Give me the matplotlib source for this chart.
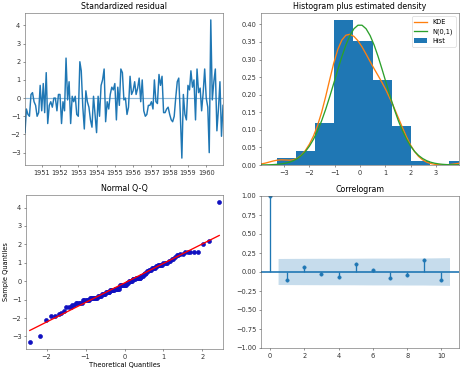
import numpy as np
import pandas as pd
import matplotlib
matplotlib.use('Agg')
import matplotlib.pyplot as plt
import matplotlib.dates as mdates
from statistics import NormalDist

# Standardized residuals, monthly, 1950-02 .. 1960-12
resid_1950 = [-1.9, -0.6, -0.9, -1.0, 0.2, 0.3, -0.2, -0.4, -1.0, -0.8, 0.7]
resid_1951 = [-0.7, 0.8, -0.8, 1.4, -1.4, -0.4, -0.2, -0.5, 0.0, 0.0, -0.7, 0.2]
resid_1952 = [0.2, -1.4, -0.2, -0.7, 2.2, -0.1, 0.9, -1.4, 0.1, -0.2, 0.1, -0.9]
resid_1953 = [-1.0, 2.0, 1.5, -0.5, -1.7, 0.4, -0.2, -0.5, -1.2, -1.6, 0.1, -0.9]
resid_1954 = [-1.9, 0.1, -1.0, 0.7, 1.0, 1.6, -1.3, -0.2, -0.6, 0.2, 0.6, 0.45]
resid_1955 = [0.8, -1.2, 0.6, -0.4, 1.6, 1.4, -0.1, 0.0, -0.9, -0.5, 1.2, 0.2]
resid_1956 = [0.4, 0.9, 0.2, 0.55, 1.1, -0.2, 1.0, -0.7, -1.0, -0.9, -0.4, -0.4]
resid_1957 = [-0.2, -0.6, 1.0, -0.2, -0.3, 1.3, 0.7, 1.2, -0.8, -0.8, -0.6, -0.5]
resid_1958 = [-0.9, -1.2, -1.3, -1.0, 0.0, 0.9, 1.1, -0.9, -3.3, 0.2, -0.9, -1.2]
resid_1959 = [0.7, 0.45, 1.5, 0.6, 1.0, -1.2, 1.6, 0.3, 0.55, -0.7, 0.3, 1.6]
resid_1960 = [0.0, -0.5, -3.0, 4.3, -0.1, 0.9, 1.6, -1.8, -0.6, 0.9, -2.1, -0.4]

start_month = '1950-02-01'

# Correlogram values
acf_lags = list(range(11))
acf_vals = [1.0, -0.11, 0.06, -0.03, -0.07, 0.10, 0.02, -0.08, -0.04, 0.16, -0.10]

resid = np.array(resid_1950 + resid_1951 + resid_1952 + resid_1953 + resid_1954 +
                 resid_1955 + resid_1956 + resid_1957 + resid_1958 + resid_1959 +
                 resid_1960)
dates = pd.date_range(start_month, periods=len(resid), freq='MS')
n = len(resid)

DPI = 47.4
W, H = 474, 370
plt.rcParams['axes.edgecolor'] = '#555555'
plt.rcParams['xtick.color'] = '#333333'
plt.rcParams['ytick.color'] = '#333333'
fig = plt.figure(figsize=(W / DPI, H / DPI), dpi=DPI)


def rect(x0, y0, x1, y1):
    return [x0 / W, 1 - y1 / H, (x1 - x0) / W, (y1 - y0) / H]


ax1 = fig.add_axes(rect(25, 13, 223, 165))
ax2 = fig.add_axes(rect(261, 13, 459, 165))
ax3 = fig.add_axes(rect(26, 195, 223, 349))
ax4 = fig.add_axes(rect(261, 196, 459, 348))

# 1. Standardized residual
ax1.plot(dates, resid, lw=2.2)
ax1.hlines(0, dates[0], dates[-1], alpha=0.5, lw=1.8)
ax1.set_xlim(dates[0], dates[-1])
ax1.xaxis.set_major_locator(mdates.YearLocator())
ax1.xaxis.set_major_formatter(mdates.DateFormatter('%Y'))
ax1.set_title('Standardized residual')

# 2. Histogram plus estimated density
_, _, patches = ax2.hist(resid, density=True, label='Hist')
nd = NormalDist()
xlim = (-1.96 * 2, 1.96 * 2)
xs = np.linspace(xlim[0], xlim[1])
bw = n ** (-1 / 5) * np.std(resid, ddof=1)
kde = np.array([np.mean([nd.pdf((x - r) / bw) for r in resid]) / bw for x in xs])
npdf = np.array([nd.pdf(x) for x in xs])
l1, = ax2.plot(xs, kde, label='KDE', lw=2)
l2, = ax2.plot(xs, npdf, label='N(0,1)', lw=2)
ax2.set_xlim(xlim)
ax2.legend(handles=[l1, l2, patches[0]], labels=['KDE', 'N(0,1)', 'Hist'],
           loc='upper right')
ax2.set_title('Histogram plus estimated density')

# 3. Normal Q-Q
ys = np.sort(resid)
probs = [(i + 1) / (n + 1) for i in range(n)]
tq = np.array([nd.inv_cdf(p) for p in probs])
ax3.set_xmargin(0.02)
ax3.plot(tq, ys, 'o', color='#1010c0', markersize=6)
ax3.plot(tq, tq * ys.std() + ys.mean(), 'r-', lw=2)
ax3.set_xlabel('Theoretical Quantiles')
ax3.set_ylabel('Sample Quantiles')
ax3.set_title('Normal Q-Q')

# 4. Correlogram
lags = np.array(acf_lags)
acf = np.array(acf_vals)
ax4.vlines(lags, [0], acf, lw=2)
ax4.axhline(0, lw=2.5)
ax4.margins(0.05)
ax4.plot(lags, acf, marker='o', markersize=5, linestyle='None')
varacf = np.ones(len(acf)) / n
varacf[0] = 0
varacf[2:] *= 1 + 2 * np.cumsum(acf[1:-1] ** 2)
interval = 1.959964 * np.sqrt(varacf)
fl = lags[1:].astype(float)
fl[0] -= 0.5
fl[-1] += 0.5
ax4.fill_between(fl, -interval[1:], interval[1:], alpha=0.25)
ax4.set_ylim(-1, 1)
ax4.set_title('Correlogram')

fig.savefig('out.png', dpi=DPI)
